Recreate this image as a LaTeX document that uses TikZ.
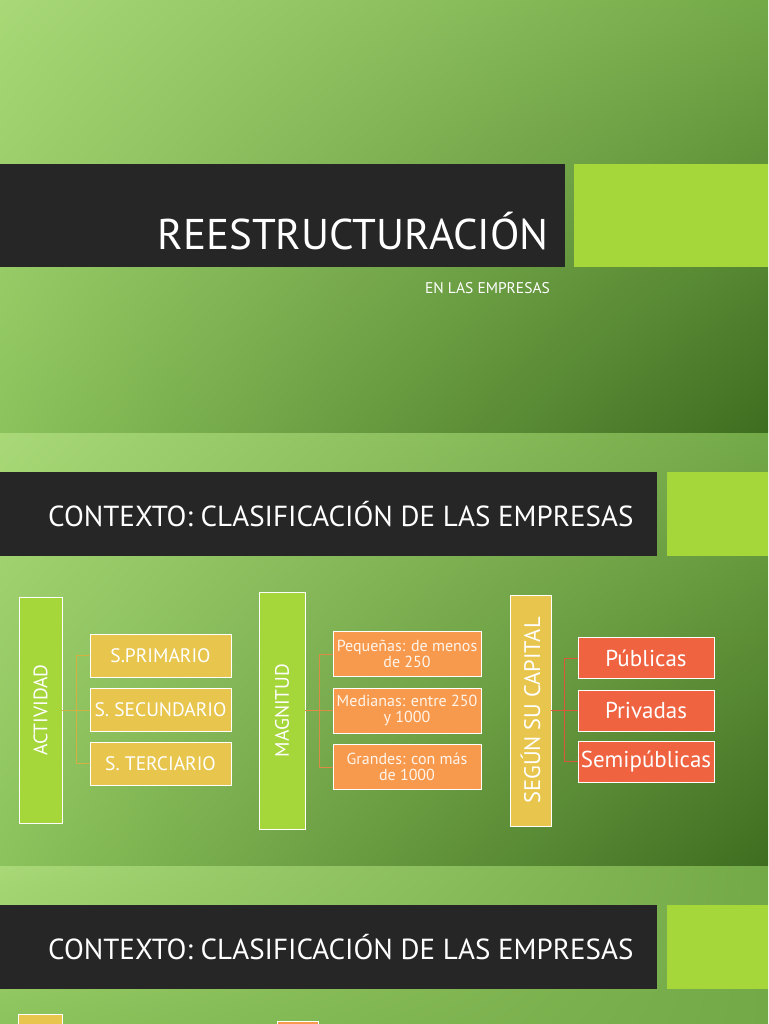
\documentclass[tikz,border=0pt]{standalone}
\usepackage{fontspec}
\setmainfont{PT Sans}
\usetikzlibrary{shadings}
\begin{document}
\begin{tikzpicture}[x=1pt,y=-1pt,
  bar/.style={fill=black!85,draw=none},
  accent/.style={fill=lgreen,draw=none},
  vbox/.style={draw=white,line width=0.8pt,inner sep=0pt,text=white},
  cbox/.style={draw=white,line width=0.6pt,inner sep=0pt,text=white,align=center},
  yl/.style={draw=ybox!90!black,line width=0.7pt},
  ol/.style={draw=obox!90!black,line width=0.7pt},
  rl/.style={draw=rbox!90!black,line width=0.7pt}]
\definecolor{lgreen}{HTML}{A5D63A}
\definecolor{ybox}{HTML}{E8C54C}
\definecolor{obox}{HTML}{F89A4E}
\definecolor{rbox}{HTML}{EF6341}
\definecolor{g1}{HTML}{A8D877}
\definecolor{g2}{HTML}{74A948}
\definecolor{g3}{HTML}{8CC35C}
\definecolor{g4}{HTML}{3F6D20}
\useasboundingbox (0,0) rectangle (768,1024);
\shade[upper left=g1,upper right=g2,lower left=g3,lower right=g4] (0,0) rectangle (768,432);
\shade[upper left=g1,upper right=g2,lower left=g3,lower right=g4] (0,433) rectangle (768,865);
\shade[upper left=g1,upper right=g2,lower left=g3,lower right=g2] (0,866) rectangle (768,1024);
% slide 1
\fill[bar] (0,164) rectangle (565,267);
\fill[accent] (574,164) rectangle (768,267);
\node[anchor=east,text=white,font=\fontsize{43}{47}\selectfont,inner sep=0pt] (t1) at (549,231) {REESTRUCTURACIÓN};
\node[anchor=east,text=white,font=\fontsize{15.5}{17}\selectfont,inner sep=0pt] (t2) at (550,288) {EN LAS EMPRESAS};
% slide 2
\fill[bar] (0,472) rectangle (657,556);
\fill[accent] (667,472) rectangle (768,556);
\node[anchor=west,text=white,font=\fontsize{29}{32}\selectfont,inner sep=0pt] (t3) at (48,514) {CONTEXTO: CLASIFICACIÓN DE LAS EMPRESAS};
% column 1
\node[vbox,fill=lgreen,minimum width=43pt,minimum height=226pt] (act) at (40.5,710) {};
\node[rotate=90,text=white,font=\fontsize{19.5}{21}\selectfont] at (act.center) {ACTIVIDAD};
\foreach \n/\y/\t in {p1/655.5/S.PRIMARIO, p2/710/S. SECUNDARIO, p3/763.5/S. TERCIARIO}
  \node[cbox,fill=ybox,minimum width=141pt,minimum height=43pt,font=\fontsize{19.5}{21}\selectfont] (\n) at (160.5,\y) {\t};
\coordinate (j1) at (76,710);
\draw[yl] (act.east) -- (j1);
\foreach \n in {p1,p2,p3} \draw[yl] (j1) |- (\n.west);
% column 2
\node[vbox,fill=lgreen,minimum width=46pt,minimum height=237pt] (mag) at (282,710.5) {};
\node[rotate=90,text=white,font=\fontsize{19.5}{21}\selectfont] at (mag.center) {MAGNITUD};
\foreach \n/\y/\t in {m1/654/Pequeñas: de menos\\de 250, m2/710.5/Medianas: entre 250\\y 1000, m3/767/Grandes: con más\\de 1000}
  \node[cbox,fill=obox,minimum width=148pt,minimum height=45pt,font=\fontsize{16}{16}\selectfont,text=white!92!orange] (\n) at (407,\y) {\t};
\coordinate (j2) at (319,710.5);
\draw[ol] (mag.east) -- (j2);
\foreach \n in {m1,m2,m3} \draw[ol] (j2) |- (\n.west);
% column 3
\node[vbox,fill=ybox,minimum width=41pt,minimum height=231pt] (cap) at (530.5,710.5) {};
\node[rotate=90,text=white,font=\fontsize{22.5}{24}\selectfont] at (cap.center) {SEGÚN SU CAPITAL};
\foreach \n/\y/\t in {c1/658/Públicas, c2/710.5/Privadas, c3/761.5/Semipúblicas}
  \node[cbox,fill=rbox,minimum width=136pt,minimum height=41pt,font=\fontsize{23}{25}\selectfont] (\n) at (646,\y) {\t};
\coordinate (j3) at (564,710.5);
\draw[rl] (cap.east) -- (j3);
\foreach \n in {c1,c2,c3} \draw[rl] (j3) |- (\n.west);
% slide 3
\fill[bar] (0,905) rectangle (657,989);
\fill[accent] (667,905) rectangle (768,989);
\node[anchor=west,text=white,font=\fontsize{29}{32}\selectfont,inner sep=0pt] (t4) at (48,947) {CONTEXTO: CLASIFICACIÓN DE LAS EMPRESAS};
\filldraw[fill=ybox,draw=white,line width=0.8pt] (18,1014) rectangle (62,1030);
\filldraw[fill=obox,draw=white,line width=0.8pt] (277,1021) rectangle (318,1030);
\end{tikzpicture}
\end{document}
